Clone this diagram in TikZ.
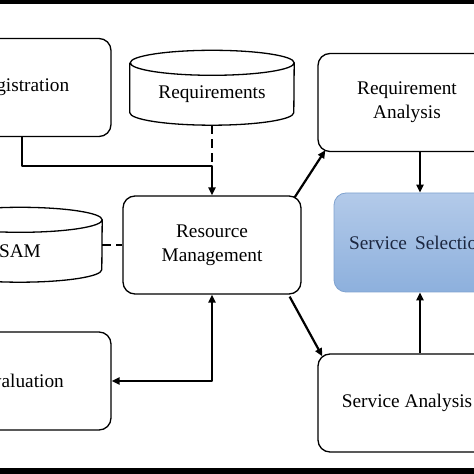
\documentclass[tikz,border=0pt]{standalone}
\usepackage{fontspec}
\setmainfont{Liberation Serif}
\usetikzlibrary{arrows.meta}
\definecolor{selfill}{HTML}{B3CAE9}
\definecolor{selfilldark}{HTML}{8DB0DD}
\definecolor{selborder}{HTML}{7FA2CF}
\definecolor{seltext}{HTML}{1C2740}
\begin{document}
\begin{tikzpicture}[x=1pt,y=1pt,line join=round,font=\fontsize{19.3}{24}\selectfont,>={Triangle[length=8pt,width=7pt]},
	box/.style={draw,line width=1.3pt,rounded corners=12pt,minimum width=178pt,minimum height=98pt,align=center},
	cyl/.style={minimum width=164pt,minimum height=62pt,inner sep=0pt},
	flow/.style={line width=2.2pt},
	link/.style={line width=2.2pt,dash pattern=on 9pt off 5pt}]
	\useasboundingbox (0,0) rectangle (474,474);
	\begin{scope}
		\clip (0,0) rectangle (474,474);
		\node[box] (reg) at (22,386.5) {Registration};
		\node[cyl] (req) at (212,380) {Requirements};
		\node[box] (ra) at (407,371.5) {Requirement\\Analysis};
		\node[cyl] (sam) at (20,223) {SAM};
		\node[box] (rm) at (212,229) {Resource\\Management};
		\node[box,draw=selborder,line width=0.8pt,top color=selfill,bottom color=selfilldark,text=seltext,minimum width=168pt,minimum height=99pt] (ss) at (418,231.5) {Service\ \,Selection};
		\node[box] (ev) at (22,93) {Evaluation};
		\node[box] (sa) at (407,71) {Service Analysis};
		% cylinder outlines
		\foreach \n in {req,sam}
		\draw[line width=1.3pt] (\n.north west) -- ([yshift=12.5pt]\n.south west)
		arc[start angle=180,end angle=360,x radius=82pt,y radius=12.5pt]
		-- (\n.north east) arc[start angle=0,end angle=360,x radius=82pt,y radius=12.5pt];
		% connectors
		\coordinate (j) at (rm.north |- 0,308);
		\draw[link] (req.south) -- (j);
		\draw[flow,->] (reg.south) |- (j) -- (rm.north);
		\draw[link] (sam.east |- rm.west) -- (rm.west);
		\draw[flow,<->] (ev.east) -| (rm.south);
		\draw[flow,->] ([xshift=-7pt,yshift=-2pt]rm.north east) -- ([xshift=8pt,yshift=2pt]ra.south west);
		\draw[flow,->] ([xshift=-12pt,yshift=-2pt]rm.south east) -- ([xshift=5pt,yshift=-3pt]sa.north west);
		\draw[flow,->] ([xshift=13pt]ra.south) -- ([xshift=13pt]ra.south |- ss.north);
		\draw[flow,->] ([xshift=13pt]sa.north) -- ([xshift=13pt]sa.north |- ss.south);
	\end{scope}
	\fill (0,0) rectangle (474,6);
	\fill (0,470) rectangle (474,474);
\end{tikzpicture}
\end{document}
